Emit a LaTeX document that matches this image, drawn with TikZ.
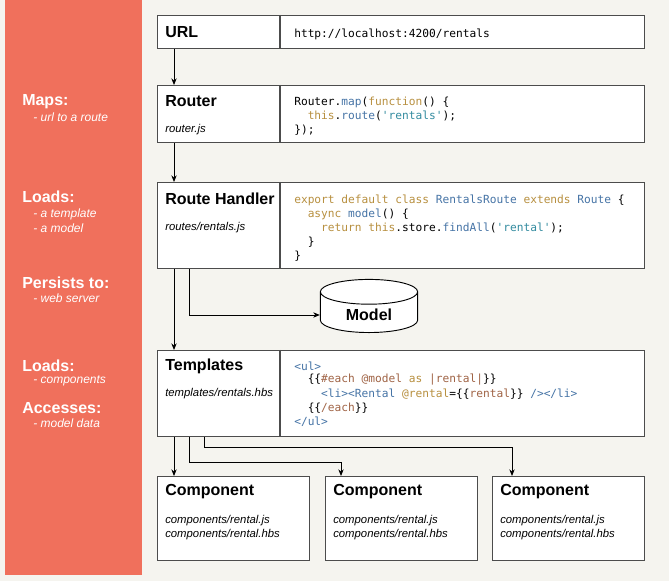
\documentclass[tikz,border=0pt]{standalone}
\usepackage{fontspec}
\setmainfont{Liberation Sans}
\setmonofont{DejaVu Sans Mono}
\usetikzlibrary{shapes.geometric,arrows.meta,positioning,calc}
\definecolor{PaperBg}{RGB}{245,244,239}
\definecolor{SideRed}{RGB}{240,112,92}
\definecolor{KwGold}{RGB}{184,144,64}
\definecolor{IdBlue}{RGB}{70,116,166}
\definecolor{StrTeal}{RGB}{52,140,160}
\definecolor{TplBrown}{RGB}{160,100,70}
\newcommand{\kw}[1]{\textcolor{KwGold}{#1}}
\newcommand{\id}[1]{\textcolor{IdBlue}{#1}}
\newcommand{\st}[1]{\textcolor{StrTeal}{#1}}
\newcommand{\tb}[1]{\textcolor{TplBrown}{#1}}
\tikzset{
  box/.style={rectangle, draw=black!70, line width=0.9pt, fill=white, anchor=north west, inner sep=0pt},
  title/.style={anchor=west, font=\bfseries\fontsize{12}{14}\selectfont, inner sep=0pt},
  file/.style={anchor=west, font=\itshape\fontsize{8.5}{10}\selectfont, inner sep=0pt},
  code/.style={anchor=west, font=\ttfamily\fontsize{8.4}{10}\selectfont, inner sep=0pt},
  side/.style={anchor=west, text=white, font=\bfseries\fontsize{12}{14}\selectfont, inner sep=0pt},
  sidesub/.style={anchor=west, text=white, font=\itshape\fontsize{9}{10}\selectfont, inner sep=0pt},
  arrow/.style={-{Stealth[length=5pt,width=4pt]}, line width=0.6pt}
}
\begin{document}
\begin{tikzpicture}[x=0.75pt, y=-0.75pt]
\useasboundingbox (0,0) rectangle (669,581);
\fill[PaperBg] (0,0) rectangle (669,581);
\fill[SideRed] (5,0) rectangle (142,575);

% side notes
\node[side] at (22,102) {Maps:};
\node[sidesub] at (33,117) {- url to a route};
\node[side] at (22,197) {Loads:};
\node[sidesub] at (33,214) {- a template};
\node[sidesub] at (33,228) {- a model};
\node[side] at (22,283) {Persists to:};
\node[sidesub] at (33,298) {- web server};
\node[side] at (22,366) {Loads:};
\node[sidesub] at (33,381) {- components};
\node[side] at (22,408) {Accesses:};
\node[sidesub] at (33,423) {- model data};

% boxes
\node (url) [box, minimum width=365pt, minimum height=24.75pt] at (157,15) {};
\node (router) [box, minimum width=365pt, minimum height=42.75pt] at (157,85) {};
\node (handler) [box, minimum width=365pt, minimum height=64.5pt] at (157,182) {};
\node (tpl) [box, minimum width=365pt, minimum height=64.5pt] at (157,350) {};
\draw[black!70, line width=0.9pt] (280,15) -- (280,48) (280,85) -- (280,142)
  (280,182) -- (280,268) (280,350) -- (280,436);

% URL
\node[title] at (165,32) {URL};
\node[code] at (294,34) {http://localhost:4200/rentals};

% Router
\node[title] at (165,101) {Router};
\node[file] at (165,130) {router.js};
\node[code] at (294,102) {Router.\id{map}(\kw{function}() \{};
\node[code] at (294,116) {\ \ \kw{this}.\id{route}(\st{'rentals'});};
\node[code] at (294,130) {\});};

% Route Handler
\node[title] at (165,199) {Route Handler};
\node[file] at (165,228) {routes/rentals.js};
\node[code] at (294,200) {\kw{export default class} \id{RentalsRoute} \kw{extends} \id{Route} \{};
\node[code] at (294,214) {\ \ \kw{async} \id{model}() \{};
\node[code] at (294,228) {\ \ \ \ \kw{return this}.store.\id{findAll}(\st{'rental'});};
\node[code] at (294,242) {\ \ \}};
\node[code] at (294,256) {\}};

% Model
\node (model) [cylinder, shape border rotate=90, aspect=0.45, draw=black, line width=0.7pt, fill=white,
  minimum width=73pt, minimum height=36pt, font=\bfseries\fontsize{12}{14}\selectfont] at (369,315) {\raisebox{-6pt}{Model}};

% Templates
\node[title] at (165,366) {Templates};
\node[file] at (165,394) {templates/rentals.hbs};
\node[code] at (294,366) {\id{<ul>}};
\node[code] at (294,380) {\ \ \{\{\tb{\#each @model} \kw{as} \tb{|rental|}\}\}};
\node[code] at (294,394) {\ \ \ \ \id{<li><Rental} \kw{@rental}=\{\{\tb{rental}\}\} \id{/></li>}};
\node[code] at (294,408) {\ \ \{\{\tb{/each}\}\}};
\node[code] at (294,422) {\id{</ul>}};

% components
\foreach \cx/\cn in {157/compA, 325/compB, 492/compC} {
  \node (\cn) [box, minimum width=114pt, minimum height=63pt] at (\cx,476) {};
  \node[title] at (\cx+8,492) {Component};
  \node[file] at (\cx+8,521) {components/rental.js};
  \node[file] at (\cx+8,535) {components/rental.hbs};
}

% connectors
\draw[arrow] (url.south west -| 174,0) -- (router.north west -| 174,0);
\draw[arrow] (router.south west -| 174,0) -- (handler.north west -| 174,0);
\draw[arrow] (handler.south west -| 174,0) -- (tpl.north west -| 174,0);
\draw[arrow] (handler.south west -| 189,0) |- (model.west);
\draw[arrow] (tpl.south west -| 174,0) -- (compA.north west -| 174,0);
\draw[arrow] (tpl.south west -| 189,0) |- (341,462) -- (compB.north west -| 341,0);
\draw[arrow] (tpl.south west -| 204,0) |- (512,447) -- (compC.north west -| 512,0);
\end{tikzpicture}
\end{document}
